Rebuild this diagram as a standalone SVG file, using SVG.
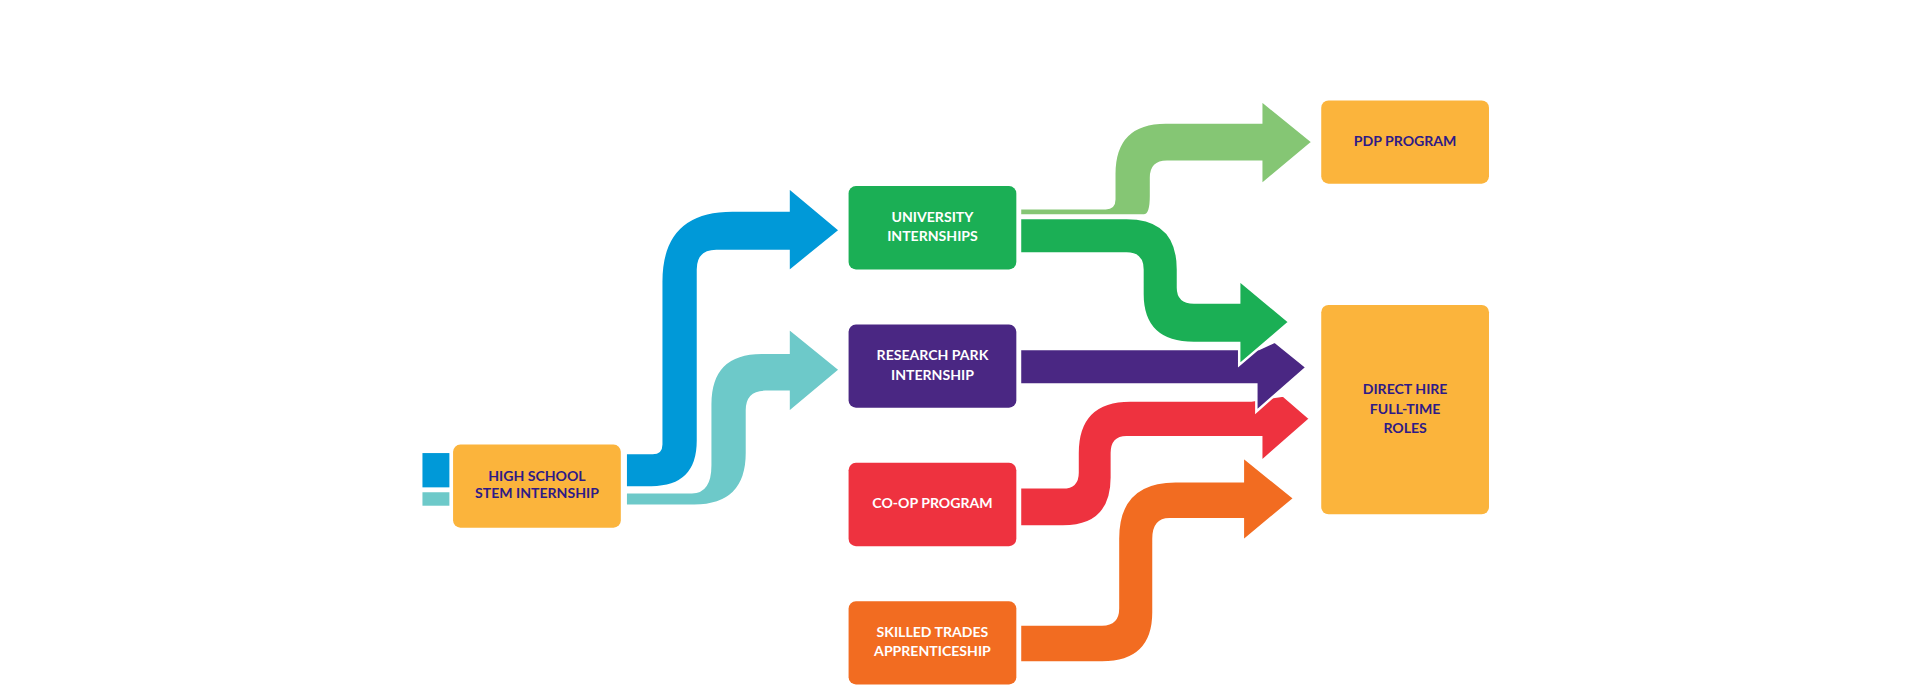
<svg xmlns="http://www.w3.org/2000/svg" width="1920" height="700" viewBox="0 0 1920 700">
<style>
.box{rx:6;ry:6}
.or{fill:#FBB43C}
.a{stroke:#fff;stroke-width:2;stroke-linejoin:miter}
.t{font-family:Lato,"Open Sans",sans-serif;font-weight:bold;font-size:11.5px;text-anchor:middle}
.w{fill:#fff}.n{fill:#2E1A87}
</style>
<rect width="1920" height="700" fill="#fff"/>
<g transform="scale(1.2245)">
<g id="connectors">
<path class="a" fill="#F26C21" d="M833,510 H900 Q913,510 913,497 V440 Q913,393 960,393 H1015 V373 L1057,407 L1015,442 V424 H955 Q942,424 942,440 V500 Q942,541 900,541 H833 Z"/>
<path class="a" fill="#EE323F" d="M833,398 H868 Q880,398 880,386 V370 Q880,327 923,327 H1022 L1048,323 L1070,342 L1030,377 V357 H920 Q908,357 908,370 V390 Q908,430 868,430 H833 Z"/>
<path class="a" fill="#4A2783" d="M833,285 H1028 L1041,279 L1067,300 L1026,336 V314 H833 Z"/>
<path class="a" fill="#85C674" d="M833,170 H903 Q910,170 910,163 V142 Q910,100 952,100 H1030 V82 L1072,116 L1030,151 V132 H953 Q940,132 940,145 V160 Q940,176 934,176 H833 Z"/>
<path class="a" fill="#1BAF55" d="M833,178 H920 Q962,178 962,220 V235 Q962,247 975,247 H1012 V229 L1053,263 L1012,298 V280 H975 Q933,280 933,240 V220 Q933,207 920,207 H833 Z"/>
<rect x="345" y="402" width="22" height="11" fill="#6DC9C9"/>
<rect x="345" y="370" width="22" height="28" fill="#0099D8"/>
<path class="a" fill="#6DC9C9" d="M511,402 H565 Q580,402 580,380 V330 Q580,288 622,288 H644 V268 L686,302 L644,337 V320 H625 Q610,320 610,335 V370 Q610,413 567,413 H511 Z"/>
<path class="a" fill="#0099D8" d="M511,370 H533 Q540,370 540,363 V230 Q540,172 598,172 H644 V153 L686,188 L644,222 V205 H585 Q570,205 570,220 V360 Q570,398 532,398 H511 Z"/>
</g>
<g id="hs"><rect class="box or" x="370" y="363" width="137" height="68"/><text class="t n" x="438.5" y="393">HIGH SCHOOL</text><text class="t n" x="438.5" y="407">STEM INTERNSHIP</text></g>
<g id="uni"><rect class="box" fill="#1BAF55" x="693" y="152" width="137" height="68"/><text class="t w" x="761.5" y="181">UNIVERSITY</text><text class="t w" x="761.5" y="197">INTERNSHIPS</text></g>
<g id="rp"><rect class="box" fill="#4A2783" x="693" y="265" width="137" height="68"/><text class="t w" x="761.5" y="294">RESEARCH PARK</text><text class="t w" x="761.5" y="310">INTERNSHIP</text></g>
<g id="coop"><rect class="box" fill="#EE323F" x="693" y="378" width="137" height="68"/><text class="t w" x="761.5" y="415">CO-OP PROGRAM</text></g>
<g id="st"><rect class="box" fill="#F26C21" x="693" y="491" width="137" height="68"/><text class="t w" x="761.5" y="520">SKILLED TRADES</text><text class="t w" x="761.5" y="536">APPRENTICESHIP</text></g>
<g id="pdp"><rect class="box or" x="1079" y="82" width="137" height="68"/><text class="t n" x="1147.5" y="119">PDP PROGRAM</text></g>
<g id="dh"><rect class="box or" x="1079" y="249" width="137" height="171"/><text class="t n" x="1147.5" y="322">DIRECT HIRE</text><text class="t n" x="1147.5" y="338">FULL-TIME</text><text class="t n" x="1147.5" y="354">ROLES</text></g>
</g>
</svg>
